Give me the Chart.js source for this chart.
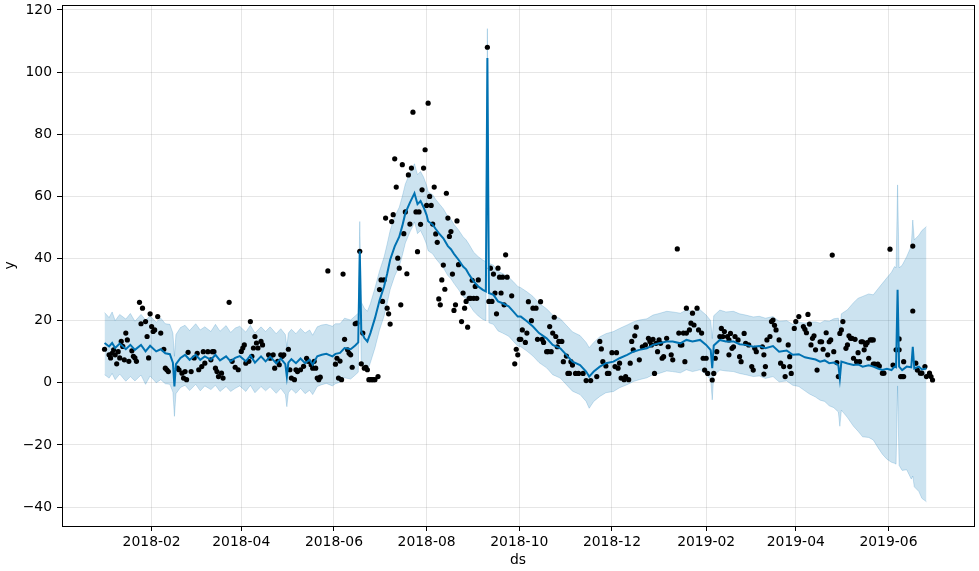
<!DOCTYPE html>
<html><head><meta charset="utf-8">
<script src="https://cdn.jsdelivr.net/npm/chart.js@4.4.1/dist/chart.umd.min.js"></script>
<style>html,body{margin:0;padding:0;background:#fff;}canvas{display:block;}</style>
</head><body>
<canvas id="c" width="979" height="571"></canvas>
<script>
// x values are days since 2018-01-01
const tickDays = [31, 90, 151, 212, 273, 334, 396, 455, 516];
const tickLabels = ['2018-02','2018-04','2018-06','2018-08','2018-10','2018-12','2019-02','2019-04','2019-06'];
const yTicks = [-40, -20, 0, 20, 40, 60, 80, 100, 120];

const fcDays = [0,3,5,7,10,14,17,20,24,27,30,34,37,40,43,45,46,47,50,53,56,60,63,66,70,73,76,80,83,86,89,93,96,99,103,106,109,113,116,119,120,121,123,126,129,132,135,137,140,143,146,150,152,155,158,162,165,167,168,169,171,173,175,178,181,184,186,188,191,194,196,198,201,203,204,206,208,210,212,213,216,218,220,223,226,228,230,233,236,238,240,243,246,249,251,252,253,256,259,262,266,269,272,274,278,282,286,291,295,300,304,308,313,317,319,322,326,330,335,339,344,348,352,357,361,365,370,374,379,383,387,392,396,399,400,401,405,409,414,418,422,427,431,435,440,444,449,453,457,461,464,468,471,474,477,480,483,484,485,489,493,496,499,503,506,509,512,515,518,520,521,522,523,525,528,531,532,533,536,538,541];
const yhat = [12.8,11.7,12.8,11.2,12.6,10.8,12.2,10.6,12.2,10.1,11.9,10.1,10.8,9.5,9.2,6.5,-1.2,6.0,8.0,9.0,7.4,9.0,7.4,8.5,7.4,9.0,7.2,8.5,6.9,8.0,8.6,6.9,8.8,6.5,8.5,6.9,8.4,6.3,7.8,6.0,2.0,6.5,7.6,6.3,7.8,6.3,7.4,5.8,8.5,9.0,9.3,8.5,9.3,9.6,11.2,10.8,12.0,13.0,42.3,16.5,14.4,13.3,16.0,20.8,26.5,31.0,35.0,39.6,43.9,47.0,50.5,54.6,58.0,60.0,61.0,57.5,58.5,56.5,54.0,52.0,50.9,49.5,48.2,46.5,44.0,43.0,41.5,39.6,37.4,36.5,34.8,32.6,31.0,29.9,29.4,104.5,28.9,28.3,26.2,25.6,24.6,23.0,21.3,21.3,19.8,18.1,16.0,14.3,12.2,11.1,9.0,6.8,5.7,3.6,2.0,3.6,5.2,6.3,6.8,7.9,9.0,10.0,10.6,11.1,12.2,12.7,13.3,13.3,12.7,13.8,13.3,13.8,12.2,10.5,4.7,12.0,13.8,13.3,13.3,12.4,12.2,11.6,11.8,11.1,11.8,10.0,10.4,9.0,9.2,8.2,7.9,7.5,6.8,7.2,6.3,6.5,5.7,1.4,6.8,6.2,5.7,5.9,5.2,5.6,5.2,4.6,4.1,4.5,4.1,5.2,5.0,29.9,5.2,4.1,5.2,5.0,11.6,4.6,5.2,4.3,4.6];
const yhatUpper = [22.6,21.0,22.8,20.0,22.0,20.5,22.3,19.8,22.0,20.2,21.5,19.5,20.8,19.0,18.8,16.0,8.5,15.5,17.8,18.5,16.8,19.0,17.0,18.0,16.5,18.8,16.6,18.4,16.2,17.6,18.2,16.3,18.5,16.0,18.0,16.5,18.0,15.8,17.4,15.5,11.5,16.0,17.2,15.8,17.5,16.0,17.0,15.3,18.0,18.6,18.8,18.2,19.0,19.0,20.8,20.2,21.5,22.4,51.9,26.0,24.0,23.0,25.5,30.5,36.0,40.5,44.6,49.0,53.5,56.5,60.0,64.0,67.5,69.5,70.5,67.0,68.0,66.2,63.5,61.5,60.5,59.0,57.8,56.0,53.5,52.6,51.0,49.2,47.0,46.0,44.5,42.0,40.6,39.5,39.0,114.0,38.5,37.8,35.8,35.2,34.0,32.6,31.0,30.6,29.3,27.8,25.6,23.8,21.8,20.6,18.5,16.4,15.2,13.0,11.3,13.0,14.8,15.8,16.5,17.5,18.6,19.6,20.2,20.6,21.8,22.3,23.0,22.8,22.4,23.4,23.0,23.5,21.8,20.0,14.2,21.6,23.4,22.8,23.0,22.2,21.8,21.2,21.4,20.8,21.3,19.8,20.0,18.8,19.5,19.2,19.5,19.6,19.2,20.0,19.8,20.6,20.8,16.8,22.2,23.5,25.8,27.2,27.8,28.6,28.3,30.2,32.0,33.8,35.6,37.4,37.0,63.7,37.0,37.8,40.6,44.0,52.4,46.0,47.5,49.0,50.3];
const yhatLower = [2.6,1.5,3.0,1.0,2.8,0.5,2.0,0.6,2.5,-0.5,2.2,0.0,1.0,-0.3,-0.5,-3.0,-10.8,-3.5,-1.5,-0.8,-2.5,-0.5,-2.6,-1.0,-2.2,-0.8,-2.8,-1.2,-2.8,-1.8,-1.0,-2.8,-0.8,-3.2,-1.2,-2.6,-1.3,-3.4,-1.8,-3.8,-7.7,-3.2,-2.0,-3.4,-1.8,-3.5,-2.4,-3.8,-1.2,-0.6,-0.2,-1.0,-0.3,0.2,1.6,1.2,2.5,3.4,32.5,7.0,5.0,3.8,6.5,11.2,17.0,21.5,25.5,30.0,34.4,37.5,41.0,45.0,48.5,50.5,51.8,48.0,49.0,47.0,44.5,42.5,41.5,40.0,38.8,37.0,34.5,33.5,32.0,30.0,27.8,27.0,25.2,23.0,21.5,20.4,20.0,95.0,19.3,18.8,16.7,16.0,15.0,13.4,11.8,11.6,10.2,8.6,6.5,4.8,2.6,1.5,-0.6,-2.7,-3.8,-6.0,-8.2,-6.0,-4.4,-3.2,-2.8,-1.6,-0.6,0.4,1.0,1.6,2.6,3.0,3.8,3.6,3.2,4.2,3.6,4.2,2.6,1.0,-5.5,2.4,4.1,3.8,3.6,3.0,2.6,2.0,2.2,1.4,2.0,0.3,0.6,-0.8,-1.2,-2.6,-3.6,-4.6,-5.6,-6.0,-7.4,-8.0,-9.4,-14.0,-8.8,-11.2,-14.0,-15.6,-17.4,-17.6,-18.4,-20.8,-23.0,-24.6,-25.6,-25.9,-26.2,-1.0,-26.6,-28.2,-28.0,-31.0,-30.0,-33.5,-35.0,-37.2,-38.3];

// observed points: [day, y]
const observed = [
[0,10.8],[3,9],[4,8],[5,9.5],[6,10.6],[7,9],[8,6.1],[9,10],[10,8],[11,13.3],[12,11.7],[13,7.4],[14,16],[15,13.8],[16,6.9],[18,10.3],[19,8.5],[20,8],[21,6.9],[23,25.9],[24,19],[25,24],[27,19.7],[28,14.9],[29,8],[30,22.2],[31,18.1],[32,16.5],[33,17],[35,21.3],[37,16],[39,10.8],[40,4.7],[41,4.2],[42,3.6],[48,4.7],[49,4.2],[51,3.1],[52,1.5],[53,3.6],[54,1],[55,9.8],[57,3.6],[59,8],[61,9.5],[62,4.2],[64,5.2],[65,10],[66,6.3],[68,10],[70,7.4],[71,10],[72,10],[73,4.7],[74,3.6],[75,2],[77,3.1],[78,1.5],[82,25.9],[84,6.9],[86,5],[88,4.2],
[90,10.1],[91,11.2],[92,12.2],[93,6.3],[95,6.9],[96,19.7],[97,8.5],[98,11.2],[99,14.9],[100,12.8],[101,11.2],[103,13.3],[104,12.2],[108,9],[109,7.9],[111,9],[112,4.7],[114,6.9],[115,5.8],[116,9],[117,8.5],[118,9],[121,10.8],[122,4.2],[123,1.5],[125,1],[126,4.2],[127,3.6],[129,4.2],[131,5.3],[133,7.9],[134,6.9],[136,5.8],[137,4.7],[138,6.9],[139,4.7],[140,1.5],[141,1],
[142,1.8],[147,36],[152,6],[153,7.9],[154,1.5],[155,7],[156,1],[157,35],[158,14],[160,10.6],[161,9.5],[162,9],[163,5],[165,19],[166,19.2],[168,42.3],[169,6.1],[170,16],[171,4.7],[172,5],[173,4.2],[174,1],[175,1],[176,1],[177,1],[178,1],[180,2],[181,30],[182,33.1],[183,26.2],[184,33.1],[185,53],[186,24],[187,22.2],[188,18.9],[189,51.9],[190,54.1],
[191,72.1],[192,63],[193,40.1],[194,36.9],[195,25.1],[196,70.2],[197,48],[198,55],[199,35.1],[200,66.9],[201,51.1],[202,69.1],[203,87.1],[205,55],[206,42.2],[207,55],[208,51],[209,62.1],[210,69.1],[211,75],[212,57.1],[213,90],[214,60],[215,57.1],[216,51.1],[217,63],[218,47.9],[219,45.2],[220,27],[221,25.1],[222,33.1],[223,37.9],[224,30.1],[225,61],[226,53],[227,47.1],[228,48.7],[229,35],[230,23.3],[231,25.1],[232,52.1],[233,38],[235,19.7],[236,28.9],[237,24],[238,26.2],[239,17.9],[240,27.2],[241,27.2],[242,33],[243,27.2],[244,31],[245,27.2],[246,33.1],
[252,108],[253,26.2],[254,36.9],[255,26.2],[256,35],[257,28.9],[258,22.2],[259,36.9],[260,34],[261,28.9],[262,34],[263,25.1],[264,41.2],[265,34],[268,28],[270,6.1],[271,10.8],[272,9],[273,14],
[274,14],[275,17],[277,13],[278,16],[279,26.1],[281,20],[282,24],[284,24],[285,14],[287,26.1],[288,14],[289,13],[291,10],[292,10],[293,18.1],[294,10],[295,16],[296,21.1],[297,14.9],[298,11.6],[299,13.3],[301,13.3],[302,6.8],[304,8.6],[305,3],[306,3],[307,6.8],[308,5.7],[310,3],[312,3],[315,3],[317,0.7],[320,0.7],[324,2],[326,13.3],[327,10.9],[328,6.8],[330,5.4],[331,3],[332,3],[334,9.7],[336,5.2],[337,9.7],[338,4.7],[339,6.3],[340,1.5],[342,1],[343,2],[345,1],[346,6.3],[347,13.3],[348,10.6],[349,15.1],[350,17.9],[352,7.4],[354,11.6],[356,12.2],[358,14.3],[359,13.3],[360,12.2],[361,14],[362,3],[363,12.7],[364,10],[365,13.8],[366,12.7],[367,7.9],[368,8.4],[370,14.3],[371,11.6],[373,9],[374,7.4],[377,43.1],[378,16],[379,12.2],[380,12.2],[381,16],[382,6.8],[383,16],[383,24],[385,17],[386,19.2],[387,22.4],[388,18.6],[390,24],[391,17],[393,16],[394,7.9],[395,4.1],[396,7.9],[397,3],[400,0.9],[401,3],[402,7.9],[403,10],[405,14.9],[406,17.5],[407,14.9],[408,16.5],[410,14.9],[411,13.8],[411,9],[412,15.9],[413,11.1],[414,11.6],[415,14.9],[417,13.8],[418,8.4],[419,6.8],[421,15.9],[422,12.7],[424,12.2],[426,5.2],[427,4.1],[428,11.1],[429,10],
[433,11.6],[434,9],[434,2.8],[435,5.2],[436,13.8],[438,14.9],[439,19.7],[440,20.2],[441,18.5],[442,17],[444,13.8],[445,6.3],[447,5.2],[448,2],[450,12.2],[451,8.4],[451,5.2],[452,3],[454,17.5],[455,19.7],
[457,21.3],[460,18.1],[461,17.2],[462,16.1],[463,22],[464,18.9],[465,12.2],[466,14.3],[467,15.1],[468,10.6],[469,4.1],[471,13.2],[472,13.2],[473,10.8],[475,16.1],[476,9],[477,13.2],[478,13.8],[479,41.1],[480,10],[482,6.5],[483,2],[484,15.9],[485,17],[486,19.7],[488,11.1],[489,12.2],[490,15.1],[491,14.3],[492,14.3],[493,7.9],[494,14],[495,6.8],[496,9.7],[497,6.8],[498,13.2],[499,13.2],[500,10.6],[501,12.2],[502,12.9],[503,7.9],[504,13.8],[505,13.8],[506,13.8],[506,6],[507,6],[509,6],[510,5.4],[512,3.1],[513,3.1],[517,43],[519,5.7],[521,10.6],[523,14.1],[523,10.6],[524,2],[525,2],[526,2],[526,6.8],[532,44],[532,23.1],[534,6.3],[535,4.1],[537,3.1],[538,3.1],[540,5.2],[541,2],[543,3.1],[544,2],[545,0.9]
];

const FONT = 'DejaVu Sans';
const BLUE = '#0072B2';
const BAND = 'rgba(0,114,178,0.2)';

const xy = (xs, ys) => xs.map((x, i) => ({x: x, y: ys[i]}));

const framePlugin = {
  id: 'frame',
  afterDraw(chart) {
    const a = chart.chartArea, c = chart.ctx;
    c.save();
    c.strokeStyle = '#000';
    c.lineWidth = 1;
    c.strokeRect(Math.round(a.left) + 0.5, Math.round(a.top) + 0.5,
                 Math.round(a.right) - Math.round(a.left), Math.round(a.bottom) - Math.round(a.top));
    c.restore();
  }
};

const zeroPad = s => { s.paddingLeft = 0; s.paddingRight = 0; s.paddingTop = 0; s.paddingBottom = 0; };

new Chart(document.getElementById('c'), {
  type: 'line',
  data: {
    datasets: [
      { label: 'yhat', data: xy(fcDays, yhat), borderColor: BLUE, borderWidth: 2,
        pointRadius: 0, fill: false, tension: 0, order: 0 },
      { label: 'y', data: observed.map(p => ({x: p[0], y: p[1]})), showLine: false,
        pointRadius: 2.6, pointBackgroundColor: '#000', pointBorderWidth: 0,
        borderColor: '#000', order: 1 },
      { label: 'upper', data: xy(fcDays, yhatUpper), borderColor: BAND, borderWidth: 1,
        backgroundColor: BAND, pointRadius: 0, fill: '+1', tension: 0, order: 2 },
      { label: 'lower', data: xy(fcDays, yhatLower), borderColor: BAND, borderWidth: 1,
        pointRadius: 0, fill: false, tension: 0, order: 3 }
    ]
  },
  options: {
    responsive: false,
    animation: false,
    events: [],
    layout: { padding: { left: 0, right: 5, top: 5, bottom: 0 } },
    plugins: { legend: { display: false }, tooltip: { enabled: false } },
    scales: {
      x: {
        type: 'linear', min: -28, max: 572.3,
        afterBuildTicks: s => { s.ticks = tickDays.map(v => ({value: v})); },
        afterFit: s => { s.height = 45; zeroPad(s); },
        grid: { color: 'rgba(128,128,128,0.2)', lineWidth: 1, tickColor: '#000',
                tickLength: 5, tickWidth: 1, drawTicks: true },
        border: { display: false },
        ticks: { autoSkip: false, maxRotation: 0, padding: 3, color: '#000',
                 font: { family: FONT, size: 13.9 },
                 callback: (v, i) => tickLabels[i] },
        title: { display: true, text: 'ds', color: '#000',
                 font: { family: FONT, size: 13.9 }, padding: { top: 0, bottom: 2 } }
      },
      y: {
        type: 'linear', min: -46.1, max: 121.6,
        afterBuildTicks: s => { s.ticks = yTicks.map(v => ({value: v})); },
        afterFit: s => { s.width = 62; zeroPad(s); },
        grid: { color: 'rgba(128,128,128,0.2)', lineWidth: 1, tickColor: '#000',
                tickLength: 5, tickWidth: 1, drawTicks: true },
        border: { display: false },
        ticks: { padding: 5, color: '#000', font: { family: FONT, size: 13.9 },
                 callback: v => (v < 0 ? '\u2212' + Math.abs(v) : String(v)) },
        title: { display: true, text: 'y', color: '#000',
                 font: { family: FONT, size: 13.9 }, padding: { top: 2, bottom: 0 } }
      }
    }
  },
  plugins: [framePlugin]
});
</script>
</body></html>
